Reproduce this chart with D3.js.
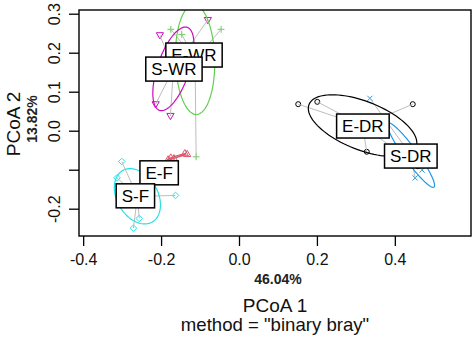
<!DOCTYPE html>
<html><head><meta charset="utf-8">
<script src="https://cdn.jsdelivr.net/npm/d3@7"></script>
<style>body{margin:0;background:#fff} svg{display:block;font-family:"Liberation Sans",Arial,Helvetica,sans-serif}</style>
</head><body><svg id="c" width="474" height="338"></svg>
<script>
// ---- data ----
const groups = ["E-DR","E-F","E-WR","S-DR","S-F","S-WR"];
const groupColors = ["#000000","#DF536B","#61D04F","#2297E6","#28E2E5","#CD0BBC"];
const groupPch = [1,2,3,4,5,6];
const sampleGroup = [0,0,0,0,0, 1,1,1,1,1, 2,2,2,2,2, 3,3,3,3,3, 4,4,4,4,4, 5,5,5,5,5];
const pcoa1 = [0.152,0.201,0.446,0.328,0.459,
               -0.182,-0.175,-0.167,-0.139,-0.133,
               -0.175,-0.147,-0.046,-0.110,-0.086,
               0.336,0.452,0.470,0.459,0.490,
               -0.301,-0.163,-0.256,-0.271,-0.313,
               -0.203,-0.080,-0.214,-0.176,-0.169];
const pcoa2 = [0.068,0.074,0.068,-0.054,-0.091,
               -0.074,-0.069,-0.071,-0.058,-0.060,
               0.260,0.247,0.260,-0.067,0.212,
               0.083,-0.121,-0.101,-0.083,-0.091,
               -0.079,-0.166,-0.225,-0.250,-0.121,
               0.245,0.284,0.068,0.038,0.158];
const labelAt1 = [0.318,-0.205,-0.1155,0.441,-0.266,-0.167];
const labelAt2 = [0.012,-0.108,0.194,-0.065,-0.167,0.158];
const xTicks = [-0.4,-0.2,0.0,0.2,0.4];
const xTickLabels = ["-0.4","-0.2","0.0","0.2","0.4"];
const yTicks = [-0.2,-0.1,0.0,0.1,0.2,0.3];
const yTickLabels = ["-0.2","","0.0","0.1","0.2","0.3"];
const xTitle = "PCoA 1", yTitle = "PCoA 2";
const xVar = "46.04%", yVar = "13.82%";
const subTitle = 'method = "binary bray"';
const xLim = [-0.4107,0.5955], yLim = [-0.27,0.3095];

// ---- drawing ----
const svg = d3.select("#c");
const L=79,R=471,T=10,B=236;
const x = d3.scaleLinear().domain(xLim).range([L,R]);
const y = d3.scaleLinear().domain(yLim).range([B,T]);

svg.append("defs").append("clipPath").attr("id","clip")
  .append("rect").attr("x",L).attr("y",T).attr("width",R-L).attr("height",B-T);
const plot = svg.append("g").attr("clip-path","url(#clip)");

const idx = d3.range(pcoa1.length);
const byGroup = groups.map((g,gi)=>idx.filter(i=>sampleGroup[i]===gi));

function sym(p, r){
  switch(p){
    case 1: return `M${-r},0A${r},${r} 0 1,0 ${r},0A${r},${r} 0 1,0 ${-r},0Z`;
    case 2: {const h=r*1.15; return `M0,${-h}L${h*0.95},${h*0.65}L${-h*0.95},${h*0.65}Z`;}
    case 3: return `M${-r},0H${r}M0,${-r}V${r}`;
    case 4: {const s=r*0.8; return `M${-s},${-s}L${s},${s}M${-s},${s}L${s},${-s}`;}
    case 5: return `M0,${-r}L${r},0L0,${r}L${-r},0Z`;
    case 6: {const h=r*1.15; return `M0,${h}L${h*0.95},${-h*0.65}L${-h*0.95},${-h*0.65}Z`;}
  }
}
const symR = {1:2.5,2:3.3,3:3.4,4:3.2,5:3.3,6:3.3};

// points
plot.selectAll("path.pt").data(idx).enter().append("path")
  .attr("class","pt")
  .attr("transform",i=>`translate(${x(pcoa1[i])},${y(pcoa2[i])})`)
  .attr("d",i=>sym(groupPch[sampleGroup[i]], symR[groupPch[sampleGroup[i]]]))
  .attr("fill","none").attr("stroke",i=>groupColors[sampleGroup[i]]).attr("stroke-width",1);

// spiders
byGroup.forEach((ids,gi)=>{
  const cx=d3.mean(ids,i=>pcoa1[i]), cy=d3.mean(ids,i=>pcoa2[i]);
  plot.selectAll(null).data(ids).enter().append("line")
    .attr("x1",x(cx)).attr("y1",y(cy))
    .attr("x2",i=>x(pcoa1[i])).attr("y2",i=>y(pcoa2[i]))
    .attr("stroke","#bdbdbd").attr("stroke-width",1);
});

// ellipses (1 sd, covariance)
function ellipse(ids){
  const n=ids.length, mx=d3.mean(ids,i=>pcoa1[i]), my=d3.mean(ids,i=>pcoa2[i]);
  let sxx=0,syy=0,sxy=0;
  ids.forEach(i=>{const dx=pcoa1[i]-mx, dy=pcoa2[i]-my; sxx+=dx*dx; syy+=dy*dy; sxy+=dx*dy;});
  sxx/=(n-1); syy/=(n-1); sxy/=(n-1);
  const th=0.5*Math.atan2(2*sxy, sxx-syy);
  const tr=sxx+syy, det=sxx*syy-sxy*sxy, disc=Math.sqrt(Math.max(tr*tr/4-det,0));
  const a=Math.sqrt(tr/2+disc), b=Math.sqrt(Math.max(tr/2-disc,0));
  return d3.range(100).map(k=>{const t=2*Math.PI*k/100, u=a*Math.cos(t), v=b*Math.sin(t);
    return [mx+u*Math.cos(th)-v*Math.sin(th), my+u*Math.sin(th)+v*Math.cos(th)];});
}
const eLine = d3.line().x(d=>x(d[0])).y(d=>y(d[1])).curve(d3.curveLinearClosed);
byGroup.forEach((ids,gi)=>{
  plot.append("path").attr("d",eLine(ellipse(ids)))
    .attr("fill","none").attr("stroke",groupColors[gi]).attr("stroke-width",1.2);
});

// labels
groups.forEach((g,gi)=>{
  const cx=x(labelAt1[gi]), cy=y(labelAt2[gi]);
  const gg=svg.append("g");
  const r=gg.append("rect");
  const t=gg.append("text").attr("x",cx).attr("y",cy+6.2).attr("text-anchor","middle")
    .attr("font-size",17).attr("fill","#000").text(g);
  const w=t.node().getComputedTextLength()+11, h=24;
  r.attr("x",cx-w/2).attr("y",cy-h/2).attr("width",w).attr("height",h)
   .attr("fill","#fff").attr("stroke","#000").attr("stroke-width",1.5);
});

// box
svg.append("rect").attr("x",L).attr("y",T).attr("width",R-L).attr("height",B-T)
  .attr("fill","none").attr("stroke","#000").attr("stroke-width",1.4);

// x axis
const xa=svg.append("g").attr("transform",`translate(0,${B})`)
  .call(d3.axisBottom(x).tickValues(xTicks).tickSize(10).tickPadding(8)
        .tickFormat((d,i)=>xTickLabels[i]));
xa.select(".domain").remove();
xa.selectAll("line").attr("stroke","#000").attr("stroke-width",1.3);
xa.selectAll("text").attr("font-size",16).attr("font-family","Liberation Sans, Arial, sans-serif").attr("fill","#111");

// y axis
const ya=svg.append("g").attr("transform",`translate(${L},0)`)
  .call(d3.axisLeft(y).tickValues(yTicks).tickSize(10).tickFormat((d,i)=>yTickLabels[i]));
ya.select(".domain").remove();
ya.selectAll("line").attr("stroke","#000").attr("stroke-width",1.3);
ya.selectAll("text").attr("font-size",16).attr("font-family","Liberation Sans, Arial, sans-serif")
  .attr("fill","#111").attr("text-anchor","middle").attr("dy",null)
  .attr("x",0).attr("y",0)
  .attr("transform",function(){return `translate(${60-L},0) rotate(-90)`;});

// titles
svg.append("text").attr("x",278).attr("y",283.5).attr("text-anchor","middle")
  .attr("font-size",14).attr("font-weight","bold").attr("fill","#222").text(xVar);
svg.append("text").attr("x",275).attr("y",311.5).attr("text-anchor","middle")
  .attr("font-size",19).attr("fill","#111").text(xTitle);
svg.append("text").attr("x",275).attr("y",331).attr("text-anchor","middle")
  .attr("font-size",18.6).attr("fill","#111").text(subTitle);
svg.append("text").attr("transform","translate(20,124) rotate(-90)").attr("text-anchor","middle")
  .attr("font-size",19).attr("fill","#111").text(yTitle);
svg.append("text").attr("transform","translate(36.5,119) rotate(-90)").attr("text-anchor","middle")
  .attr("font-size",14).attr("font-weight","bold").attr("fill","#222").text(yVar);
</script></body></html>
